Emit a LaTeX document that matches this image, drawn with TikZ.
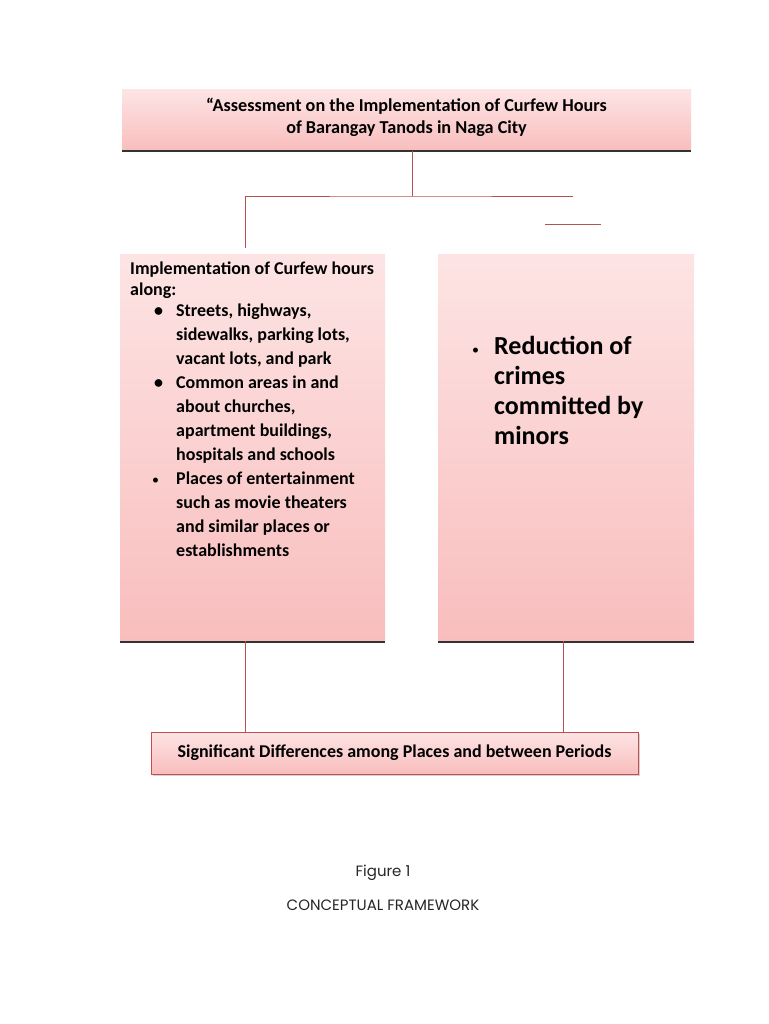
\documentclass[tikz,border=0pt]{standalone}
\usepackage{fontspec}
\setmainfont{Carlito}
\newfontfamily\capfont{Poppins}
\usepackage{xcolor}
\usetikzlibrary{positioning, shadows}
\definecolor{pinktop}{HTML}{FDE4E4}
\definecolor{pinkbot}{HTML}{F9BDBD}
\definecolor{linkred}{HTML}{B5524F}
\definecolor{boxred}{HTML}{C0504D}
\tikzset{
    panel/.style={
        inner sep = 0pt,
        top color = pinktop, bottom color = pinkbot,
        draw = none
    },
    ledge/.style = {line width = 1.6pt, black!80},
    link/.style = {linkred, line width = 0.9pt},
    words/.style = {inner sep = 0pt, align = left, font = \bfseries}
}

\begin{document}
\begin{tikzpicture}[x=1pt, y=-1pt]

    \useasboundingbox (0,0) rectangle (768,1024);

    \node[panel, minimum width = 569, minimum height = 61] (title) at (406.5,120.5) {};
    \node[words, align = center, font = \bfseries\fontsize{18.2}{22}\selectfont] (titletext) at (406.5,117)
        {``Assessment on the Implementation of Curfew Hours\\of Barangay Tanods in Naga City};
    \draw[ledge] (title.south west) -- (title.south east);

    \node[panel, minimum width = 265, minimum height = 388] (left) at (252.5,448) {};
    \node[panel, minimum width = 256, minimum height = 388] (right) at (566,448) {};
    \draw[ledge] (left.south west) -- (left.south east);
    \draw[ledge] (right.south west) -- (right.south east);

    \node[words, anchor = north west, font = \bfseries\fontsize{18}{24}\selectfont] (places) at (130,262)
        {Implementation of Curfew hours\\[-3pt]
         along:\\[-3pt]
         \hspace*{46pt}\llap{\textbullet\hspace{13pt}}Streets, highways,\\
         \hspace*{46pt}sidewalks, parking lots,\\
         \hspace*{46pt}vacant lots, and park\\
         \hspace*{46pt}\llap{\textbullet\hspace{13pt}}Common areas in and\\
         \hspace*{46pt}about churches,\\
         \hspace*{46pt}apartment buildings,\\
         \hspace*{46pt}hospitals and schools\\
         \hspace*{46pt}\llap{\normalfont\fontsize{14}{14}\selectfont\textbullet\hspace{17pt}}Places of entertainment\\
         \hspace*{46pt}such as movie theaters\\
         \hspace*{46pt}and similar places or\\
         \hspace*{46pt}establishments};

    \node[words, anchor = north west, font = \bfseries\fontsize{26}{30}\selectfont] (crimes) at (494,336)
        {\llap{\normalfont\fontsize{14}{14}\selectfont\textbullet\hspace{15pt}}Reduction of\\
         crimes\\
         committed by\\
         minors};

    \node[panel, draw = boxred, line width = 0.8pt, minimum width = 487, minimum height = 42,
          drop shadow = {opacity = 0.35, shadow xshift = 1.5pt, shadow yshift = -2pt},
          font = \bfseries\fontsize{18}{20}\selectfont] (diff) at (394.5,753)
        {Significant Differences among Places and between Periods};

    \coordinate (hub) at (412,196);
    \coordinate (hubend) at (573,196);
    \coordinate (legL) at (245,248);
    \coordinate (legR) at (563,700);
    \coordinate (stubA) at (545,224);
    \coordinate (stubB) at (601,224);

    \draw[link] (title.south -| hub) -- (hub);
    \draw[link] (hubend) -- (hub) -| (legL);
    \draw[link] (stubA) -- (stubB);
    \draw[link] ([yshift=1pt]left.south -| legL) -- (diff.north -| legL);
    \draw[link] ([yshift=1pt]right.south -| legR) -- (diff.north -| legR);

    \node[font = \capfont\fontsize{15}{18}\selectfont, black!85] (fig) at (383,873) {Figure 1};
    \node[font = \capfont\fontsize{15}{18}\selectfont, black!85] (caption) at (383,905) {CONCEPTUAL FRAMEWORK};

\end{tikzpicture}
\end{document}
